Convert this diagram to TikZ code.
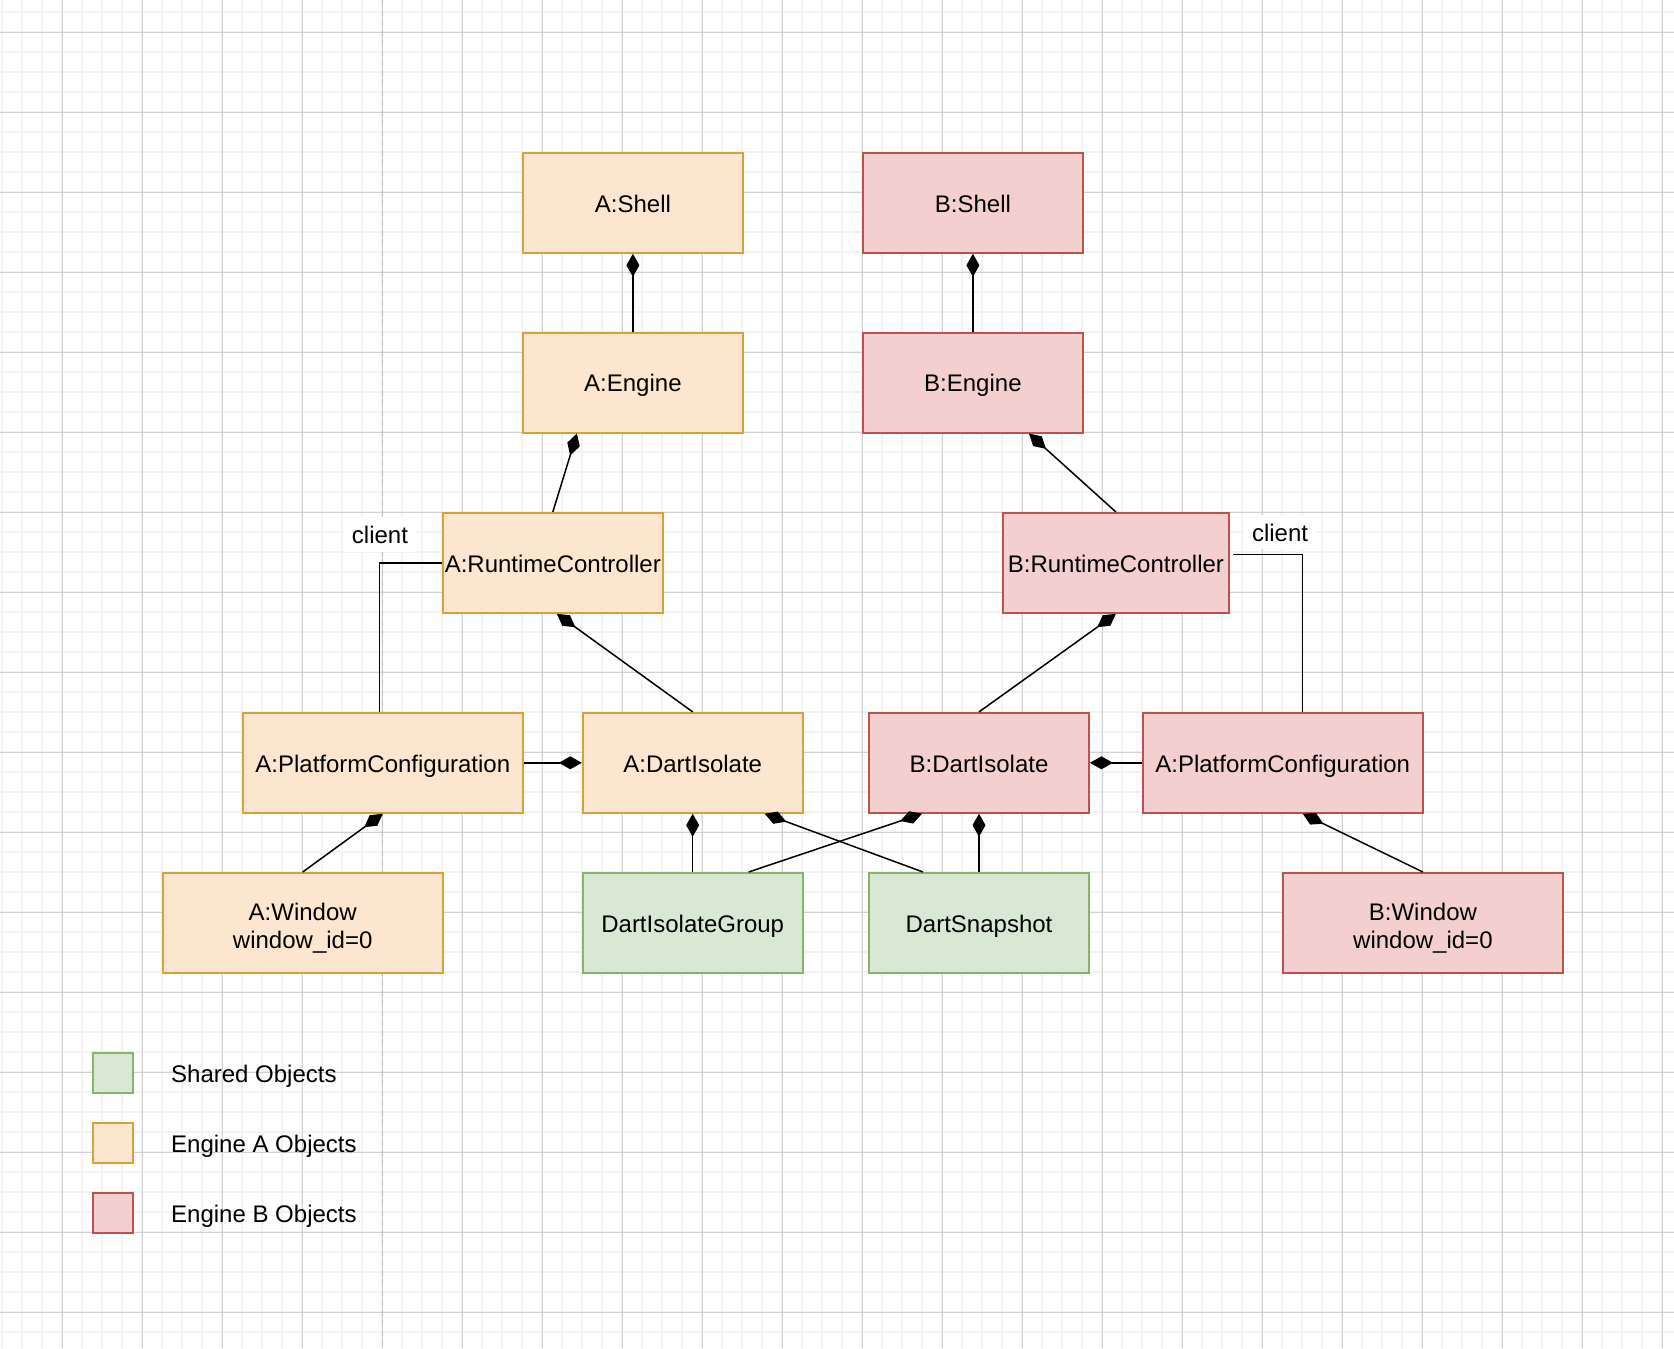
\documentclass[tikz,border=0pt]{standalone}
\usepackage{fontspec}
\setmainfont{Liberation Sans}
\usetikzlibrary{arrows.meta}

\definecolor{orangefill}{HTML}{FCE6D0}
\definecolor{orangedraw}{HTML}{D6A13A}
\definecolor{rotfill}{HTML}{F3D0CF}
\definecolor{rotdraw}{HTML}{B85450}
\definecolor{gruenfill}{HTML}{D9E8D5}
\definecolor{gruendraw}{HTML}{88B36C}

\newcommand{\zeile}{\rule[-3pt]{0pt}{15.3pt}} % feste Zeilenhoehe

\begin{document}
\begin{tikzpicture}[x=0.5pt,y=-0.5pt, % Pixelkoordinaten, y nach unten
    every node/.style={font=\fontsize{12pt}{14pt}\selectfont, execute at begin node=\zeile, execute at end node=\zeile},
    objekt/.style={draw, line width=0.9pt, inner sep=0pt, minimum width=110pt, minimum height=50pt, align=center},
    engA/.style={objekt, fill=orangefill, draw=orangedraw},
    engB/.style={objekt, fill=rotfill, draw=rotdraw},
    shared/.style={objekt, fill=gruenfill, draw=gruendraw},
    komp/.style={line width=0.75pt, -{Diamond[length=11.5pt,width=6.5pt]}},
    assoz/.style={line width=0.75pt},
    rolle/.style={fill=white, inner xsep=4pt, inner ysep=1pt}]

    % Hintergrund und Rahmen
    \fill[white] (0,0) rectangle (1674,1348);
    \useasboundingbox (0,0) rectangle (1674,1348);

    % Raster zeichnen
    \foreach \i in {0,...,83} {
        \draw[black!5, line width=1pt] ({2.3+20*\i},0) -- ({2.3+20*\i},1348); % feine Linien
    }
    \foreach \j in {0,...,66} {
        \draw[black!5, line width=1pt] (0,{12.3+20*\j}) -- (1674,{12.3+20*\j});
    }
    \foreach \i in {0,...,20} {
        \draw[black!18, line width=0.5pt] ({62.3+80*\i},0) -- ({62.3+80*\i},1348); % grobe Linien
    }
    \foreach \j in {0,...,16} {
        \draw[black!18, line width=0.5pt] (0,{32.3+80*\j}) -- (1674,{32.3+80*\j});
    }
    \draw[black!25, line width=0.5pt, dash pattern=on 3pt off 2pt] (382.3,0) -- (382.3,1348); % Seitenumbruch

    % Objekte Engine A
    \node[engA] (ashell) at (632.9,202.9) {A:Shell};
    \node[engA] (aengine) at (632.9,382.6) {A:Engine};
    \node[engA] (artc) at (552.8,562.9) {A:RuntimeController};
    \node[engA, minimum width=140pt] (apc) at (382.8,762.8) {A:PlatformConfiguration};
    \node[engA] (adi) at (692.7,762.8) {A:DartIsolate};
    \node[engA, minimum width=140pt] (awin) at (302.7,922.9) {\rule{0pt}{14.6pt}A:Window\\window\_id=0};

    % gemeinsame Objekte
    \node[shared] (dig) at (692.7,922.9) {DartIsolateGroup};
    \node[shared] (ds) at (979,922.9) {DartSnapshot};

    % Objekte Engine B
    \node[engB] (bshell) at (972.9,202.9) {B:Shell};
    \node[engB] (bengine) at (972.9,382.6) {B:Engine};
    \node[engB, minimum width=113pt] (brtc) at (1115.9,562.9) {B:RuntimeController};
    \node[engB] (bdi) at (979,762.8) {B:DartIsolate};
    \node[engB, minimum width=140pt] (bpc) at (1282.7,762.8) {A:PlatformConfiguration};
    \node[engB, minimum width=140pt] (bwin) at (1422.9,922.9) {\rule{0pt}{14.6pt}B:Window\\window\_id=0};

    % Kompositionen A
    \draw[komp] (aengine.north) -- (ashell.south);
    \draw[komp] (artc.north) -- ([xshift=-28pt]aengine.south);
    \draw[komp] (adi.north) -- ([xshift=2pt]artc.south);
    \draw[komp] (apc.east) -- (adi.west);
    \draw[komp] (awin.north) -- (apc.south);
    \draw[komp] (dig.north) -- (adi.south);
    \draw[komp] ([xshift=-28pt]ds.north) -- ([xshift=36pt]adi.south);

    % Kompositionen B
    \draw[komp] (bengine.north) -- (bshell.south);
    \draw[komp] (brtc.north) -- ([xshift=28pt]bengine.south);
    \draw[komp] (bdi.north) -- (brtc.south);
    \draw[komp] (bpc.west) -- (bdi.east);
    \draw[komp] (bwin.north) -- ([xshift=10pt]bpc.south);
    \draw[komp] (ds.north) -- (bdi.south);
    \draw[komp] ([xshift=28pt]dig.north) -- ([xshift=-28.5pt]bdi.south);

    % Client-Verbindungen
    \draw[assoz] (artc.west) -| ([xshift=-1.75pt]apc.north);
    \node[rolle] (aclient) at (380,534.5) {client};
    \draw[assoz] ([xshift=1.5pt,yshift=4.3pt]brtc.east) -| ([xshift=9.8pt]bpc.north);
    \node[rolle] (bclient) at (1280,531.8) {client};

    % Legende
    \foreach \farbe/\beschr/\y/\n in {shared/Shared Objects/1072.7/1, engA/Engine A Objects/1142.8/2, engB/Engine B Objects/1212.9/3} {
        \node[\farbe, minimum width=20pt, minimum height=20pt] (leg\n) at (112.6,\y) {};
        \node[anchor=west, inner sep=0pt] (legtext\n) at (170.8,\y) {\beschr};
    }
\end{tikzpicture}
\end{document}
